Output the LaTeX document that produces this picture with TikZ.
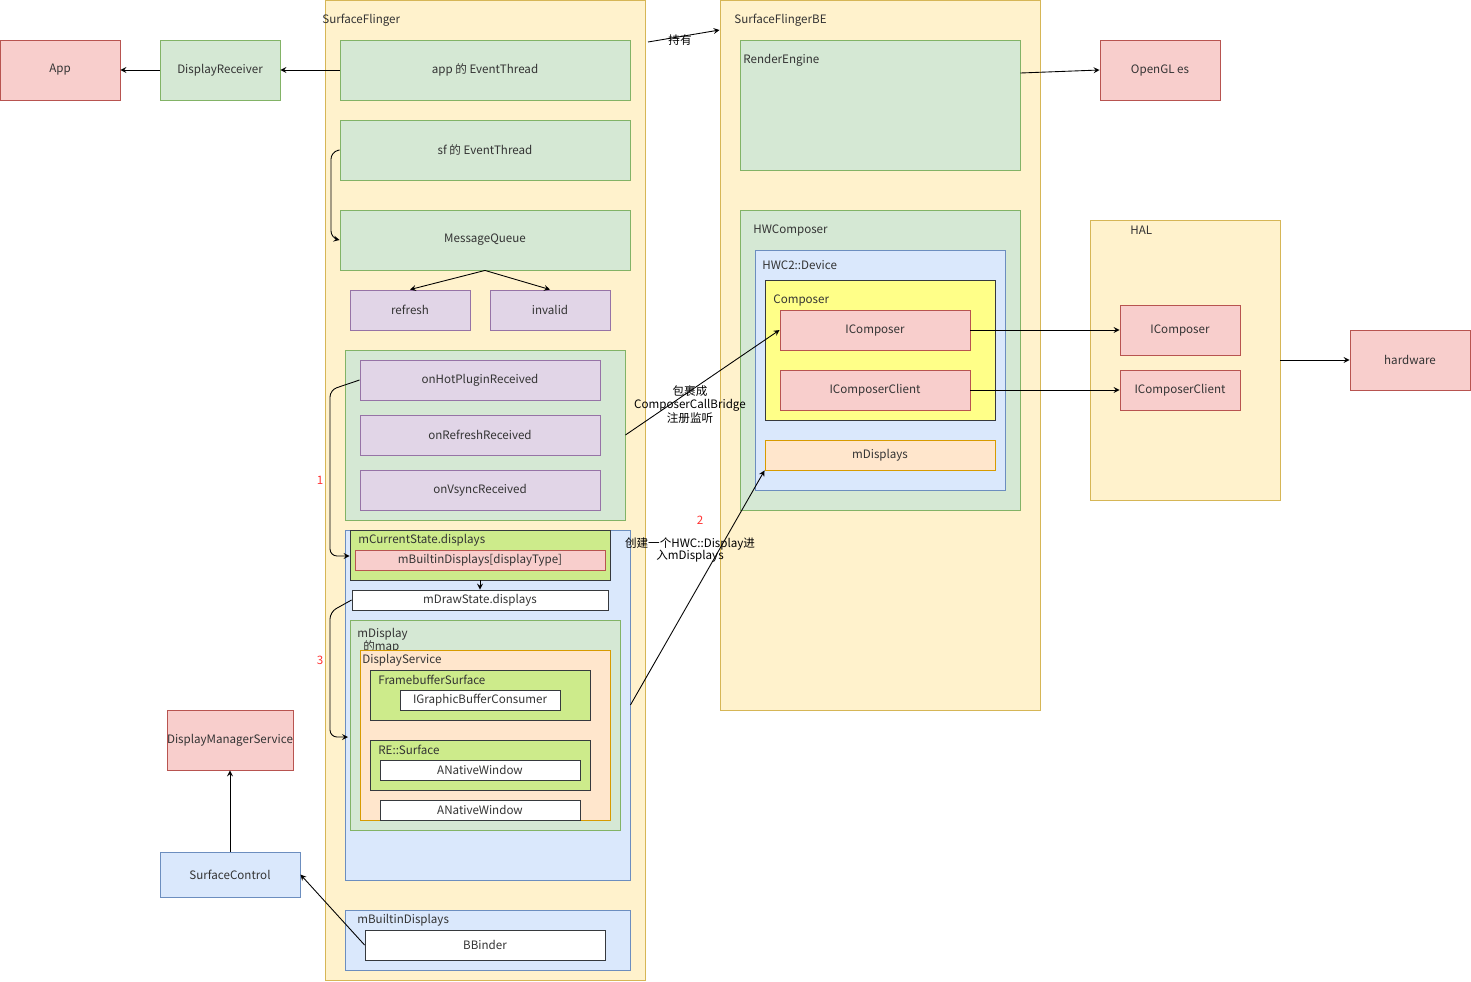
\documentclass[tikz,border=0pt]{standalone}
\usepackage{fontspec}
\setmainfont{Noto Sans CJK SC}
\begin{document}
\definecolor{yF}{HTML}{FFF2CC}\definecolor{yD}{HTML}{D6B656}
\definecolor{gF}{HTML}{D5E8D4}\definecolor{gD}{HTML}{82B366}
\definecolor{rF}{HTML}{F8CECC}\definecolor{rD}{HTML}{B85450}
\definecolor{pF}{HTML}{E1D5E7}\definecolor{pD}{HTML}{9673A6}
\definecolor{bF}{HTML}{DAE8FC}\definecolor{bD}{HTML}{6C8EBF}
\definecolor{lF}{HTML}{CDEB8B}\definecolor{lD}{HTML}{36393D}
\definecolor{cF}{HTML}{FFFF88}
\definecolor{oF}{HTML}{FFE6CC}\definecolor{oD}{HTML}{D79B00}
\newcommand\Bx[8]{\node[box,fill=#6,draw=#7,minimum width={(#4-#2)*0.02cm},minimum height={(#5-#3)*0.02cm}] (#1) at ({(#2+#4)/2},{(#3+#5)/2}) {#8};}
\newcommand\Lb[4]{\node[lbl] (#1) at (#2,#3) {#4};}
\begin{tikzpicture}[x=0.02cm,y=-0.02cm,
  font=\fontsize{6.6}{7.6}\selectfont,
  box/.style={rectangle,inner sep=0pt,line width=0.5pt,text=black!80},
  lbl/.style={anchor=west,inner sep=0pt,text=black!80},
  red lbl/.style={inner sep=0pt,text=red!80},
  arr/.style={->,>=stealth,line width=0.5pt},
  rc/.style={rounded corners=4pt}]
\useasboundingbox (0,0) rectangle (1471,981);
% containers
\Bx{sf}{325}{0}{645}{980}{yF}{yD}{}
\Lb{sfl}{322}{20}{SurfaceFlinger}
\Bx{be}{720}{0}{1040}{710}{yF}{yD}{}
\Lb{bel}{734}{20}{SurfaceFlingerBE}
\Bx{app}{0}{40}{120}{100}{rF}{rD}{App}
\Bx{dr}{160}{40}{280}{100}{gF}{gD}{DisplayReceiver}
\Bx{aet}{340}{40}{630}{100}{gF}{gD}{app 的 EventThread}
\Bx{set}{340}{120}{630}{180}{gF}{gD}{sf 的 EventThread}
\Bx{mq}{340}{210}{630}{270}{gF}{gD}{MessageQueue}
\Bx{ref}{350}{290}{470}{330}{pF}{pD}{refresh}
\Bx{inv}{490}{290}{610}{330}{pF}{pD}{invalid}
\Bx{cbs}{345}{350}{625}{520}{gF}{gD}{}
\Bx{hot}{360}{360}{600}{400}{pF}{pD}{onHotPluginReceived}
\Bx{onr}{360}{415}{600}{455}{pF}{pD}{onRefreshReceived}
\Bx{onv}{360}{470}{600}{510}{pF}{pD}{onVsyncReceived}
\Bx{blue}{345}{530}{630}{880}{bF}{bD}{}
\Bx{cur}{350}{530}{610}{580}{lF}{lD}{}
\Lb{curl}{358}{540}{mCurrentState.displays}
\Bx{bid}{355}{550}{605}{570}{rF}{rD}{mBuiltinDisplays[displayType]}
\Bx{draw}{352}{590}{608}{610}{white}{lD}{mDrawState.displays}
\Bx{md}{350}{620}{620}{830}{gF}{gD}{}
\Lb{mdl}{357}{634}{mDisplay}
\Lb{mdl2}{363}{647}{的map}
\Bx{ds}{360}{650}{610}{820}{oF}{oD}{}
\Lb{dsl}{362}{660}{DisplayService}
\Bx{fb}{370}{670}{590}{720}{lF}{lD}{}
\Lb{fbl}{378}{680}{FramebufferSurface}
\Bx{igb}{400}{690}{560}{710}{white}{lD}{IGraphicBufferConsumer}
\Bx{res}{370}{740}{590}{790}{lF}{lD}{}
\Lb{resl}{378}{750}{RE::Surface}
\Bx{anw}{380}{760}{580}{780}{white}{lD}{ANativeWindow}
\Bx{anw2}{380}{800}{580}{820}{white}{lD}{ANativeWindow}
\Bx{mbd}{345}{910}{630}{970}{bF}{bD}{}
\Lb{mbdl}{357}{920}{mBuiltinDisplays}
\Bx{bb}{365}{930}{605}{960}{white}{lD}{BBinder}
\Bx{dms}{170}{710}{290}{770}{rF}{rD}{DisplayManagerService}
\Bx{sc}{160}{852}{300}{897}{bF}{bD}{SurfaceControl}
\Bx{re}{740}{40}{1020}{170}{gF}{gD}{}
\Lb{rel}{743}{60}{RenderEngine}
\Bx{hwc}{740}{210}{1020}{510}{gF}{gD}{}
\Lb{hwcl}{753}{230}{HWComposer}
\Bx{dev}{755}{250}{1005}{490}{bF}{bD}{}
\Lb{devl}{762}{265}{HWC2::Device}
\Bx{comp}{765}{280}{995}{420}{cF}{lD}{}
\Lb{compl}{773}{300}{Composer}
\Bx{ic}{780}{310}{970}{350}{rF}{rD}{IComposer}
\Bx{icc}{780}{370}{970}{410}{rF}{rD}{IComposerClient}
\Bx{mds}{765}{440}{995}{470}{oF}{oD}{mDisplays}
\Bx{gl}{1100}{40}{1220}{100}{rF}{rD}{OpenGL es}
\Bx{hal}{1090}{220}{1280}{500}{yF}{yD}{}
\Lb{hall}{1130}{230}{HAL}
\Bx{hic}{1120}{305}{1240}{355}{rF}{rD}{IComposer}
\Bx{hicc}{1120}{370}{1240}{410}{rF}{rD}{IComposerClient}
\Bx{hw}{1350}{330}{1470}{390}{rF}{rD}{hardware}
% connectors
\draw[arr] (aet.west) -- (dr.east);
\draw[arr] (dr.west) -- (app.east);
\coordinate (h1) at (648,42);
\draw[arr] (h1) -- (be.north west |- 0,30);
\node[inner sep=0pt] (hy) at (680,40) {持有};
\draw[arr] (re.east |- 0,73) -- (gl.west);
\draw[arr,rc] (set.west) -- (331,152) -- (331,238) -- (mq.west);
\draw[arr] (mq.south) -- (ref.north);
\draw[arr] (mq.south) -- (inv.north);
\draw[arr,rc] (hot.west) -- (330,390) -- (330,556) -- (cur.west |- 0,556);
\node[red lbl] (n1) at (320,480) {1};
\draw[arr] (cur.south -| bid.south) -- (draw.north);
\draw[arr,rc] (draw.west) -- (330,612) -- (330,737) -- (348,737);
\node[red lbl] (n3) at (320,660) {3};
\draw[arr] (cbs.east) -- (ic.west);
\node[inner sep=0pt,align=center,font=\fontsize{6.6}{7.2}\selectfont] (t1) at (690,405) {包裹成\\ComposerCallBridge\\注册监听};
\draw[arr] (blue.east |- 0,705) -- (mds.south west);
\node[red lbl] (n2) at (700,520) {2};
\node[inner sep=0pt,align=center,font=\fontsize{6.6}{7.2}\selectfont] (t2) at (690,550) {创建一个HWC::Display进\\入mDisplays};
\draw[arr] (ic.east) -- (hic.west);
\draw[arr] (icc.east) -- (hicc.west);
\draw[arr] (hal.east |- hw.west) -- (hw.west);
\draw[arr] (sc.north) -- (dms.south);
\draw[arr] (bb.west) -- (sc.east);
\end{tikzpicture}
\end{document}
